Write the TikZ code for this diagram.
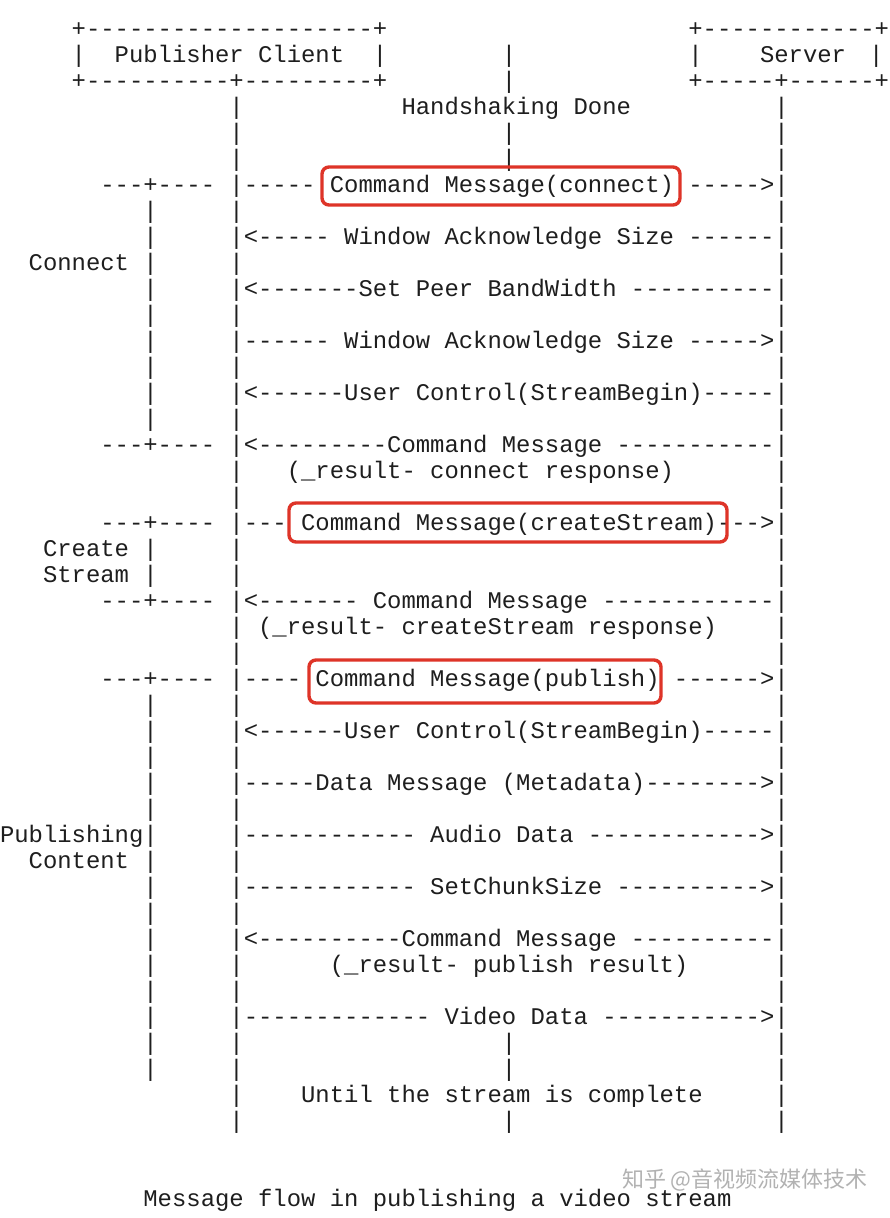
\documentclass[tikz,border=0pt]{standalone}
\usepackage{fontspec}
\setmonofont{Liberation Mono}
\newfontfamily\cjk{Noto Sans CJK SC}
\definecolor{ink}{RGB}{30,30,30}
\definecolor{hl}{RGB}{222,52,40}
\tikzset{t/.style={anchor=base west,inner sep=0pt,outer sep=0pt,font=\ttfamily\fontsize{23.9pt}{26pt}\selectfont,text=ink},
hlbox/.style={draw=hl,line width=3.4pt,rounded corners=7pt}}
\newcommand\Lx[3]{\node[t] (n#1x#2) at ({#2*14.34},{36+26*#1}) {#3};}
\newcommand\Bx[1]{\Lx{#1}{10}{|}\Lx{#1}{16}{|}\Lx{#1}{54}{|}}
\begin{document}
\begin{tikzpicture}[x=1pt,y=-1pt]
\useasboundingbox[fill=white] (0,0) rectangle (890,1218);
\Lx{0}{5}{+--------------------+}\Lx{0}{48}{+------------+}
\Lx{1}{5}{|}\Lx{1}{8}{Publisher Client}\Lx{1}{26}{|}\Lx{1}{35}{|}\Lx{1}{48}{|}\Lx{1}{53}{Server}\Lx{1}{60.6}{|}
\Lx{2}{5}{+----------+---------+}\Lx{2}{35}{|}\Lx{2}{48}{+-----+------+}
\Lx{3}{16}{|}\Lx{3}{28}{Handshaking Done}\Lx{3}{54}{|}
\Lx{4}{16}{|}\Lx{4}{35}{|}\Lx{4}{54}{|}
\Lx{5}{16}{|}\Lx{5}{35}{|}\Lx{5}{54}{|}
\Lx{6}{7}{---+----}\Lx{6}{16}{|----- Command Message(connect)}\Lx{6}{48}{----->|}
\Bx{7}
\Lx{8}{10}{|}\Lx{8}{16}{|<----- Window Acknowledge Size ------|}
\Lx{9}{2}{Connect |}\Lx{9}{16}{|}\Lx{9}{54}{|}
\Lx{10}{10}{|}\Lx{10}{16}{|<-------Set Peer BandWidth ----------|}
\Bx{11}
\Lx{12}{10}{|}\Lx{12}{16}{|------ Window Acknowledge Size ----->|}
\Bx{13}
\Lx{14}{10}{|}\Lx{14}{16}{|<------User Control(StreamBegin)-----|}
\Bx{15}
\Lx{16}{7}{---+----}\Lx{16}{16}{|<---------Command Message -----------|}
\Lx{17}{16}{|}\Lx{17}{20}{(\_result- connect response)}\Lx{17}{54}{|}
\Lx{18}{16}{|}\Lx{18}{54}{|}
\Lx{19}{7}{---+----}\Lx{19}{16}{|---}\Lx{19}{21}{Command Message(createStream)--->|}
\Lx{20}{3}{Create |}\Lx{20}{16}{|}\Lx{20}{54}{|}
\Lx{21}{3}{Stream |}\Lx{21}{16}{|}\Lx{21}{54}{|}
\Lx{22}{7}{---+----}\Lx{22}{16}{|<------- Command Message ------------|}
\Lx{23}{16}{|}\Lx{23}{18}{(\_result- createStream response)}\Lx{23}{54}{|}
\Lx{24}{16}{|}\Lx{24}{54}{|}
\Lx{25}{7}{---+----}\Lx{25}{16}{|---- Command Message(publish)}\Lx{25}{47}{------>|}
\Bx{26}
\Lx{27}{10}{|}\Lx{27}{16}{|<------User Control(StreamBegin)-----|}
\Bx{28}
\Lx{29}{10}{|}\Lx{29}{16}{|-----Data Message}\Lx{29}{35}{(Metadata)-------->|}
\Bx{30}
\Lx{31}{0}{Publishing|}\Lx{31}{16}{|------------ Audio Data ------------>|}
\Lx{32}{2}{Content |}\Lx{32}{16}{|}\Lx{32}{54}{|}
\Lx{33}{10}{|}\Lx{33}{16}{|------------ SetChunkSize ---------->|}
\Bx{34}
\Lx{35}{10}{|}\Lx{35}{16}{|<----------Command Message ----------|}
\Bx{36}\Lx{36}{23}{(\_result- publish result)}
\Bx{37}
\Lx{38}{10}{|}\Lx{38}{16}{|------------- Video Data ----------->|}
\Bx{39}\Lx{39}{35}{|}
\Bx{40}\Lx{40}{35}{|}
\Lx{41}{16}{|}\Lx{41}{21}{Until the stream is complete}\Lx{41}{54}{|}
\Lx{42}{16}{|}\Lx{42}{35}{|}\Lx{42}{54}{|}
\Lx{45}{10}{Message flow in publishing a video stream}
\draw[hlbox] (322,167) rectangle (680,205);
\draw[hlbox] (289,503) rectangle (727,542);
\draw[hlbox] (309,660) rectangle (661,703);
\node[anchor=east,inner sep=0pt,font=\cjk\fontsize{22pt}{24pt}\selectfont,text=black!30] (wm) at (868,1180) {知乎 @音视频流媒体技术};
\end{tikzpicture}
\end{document}
